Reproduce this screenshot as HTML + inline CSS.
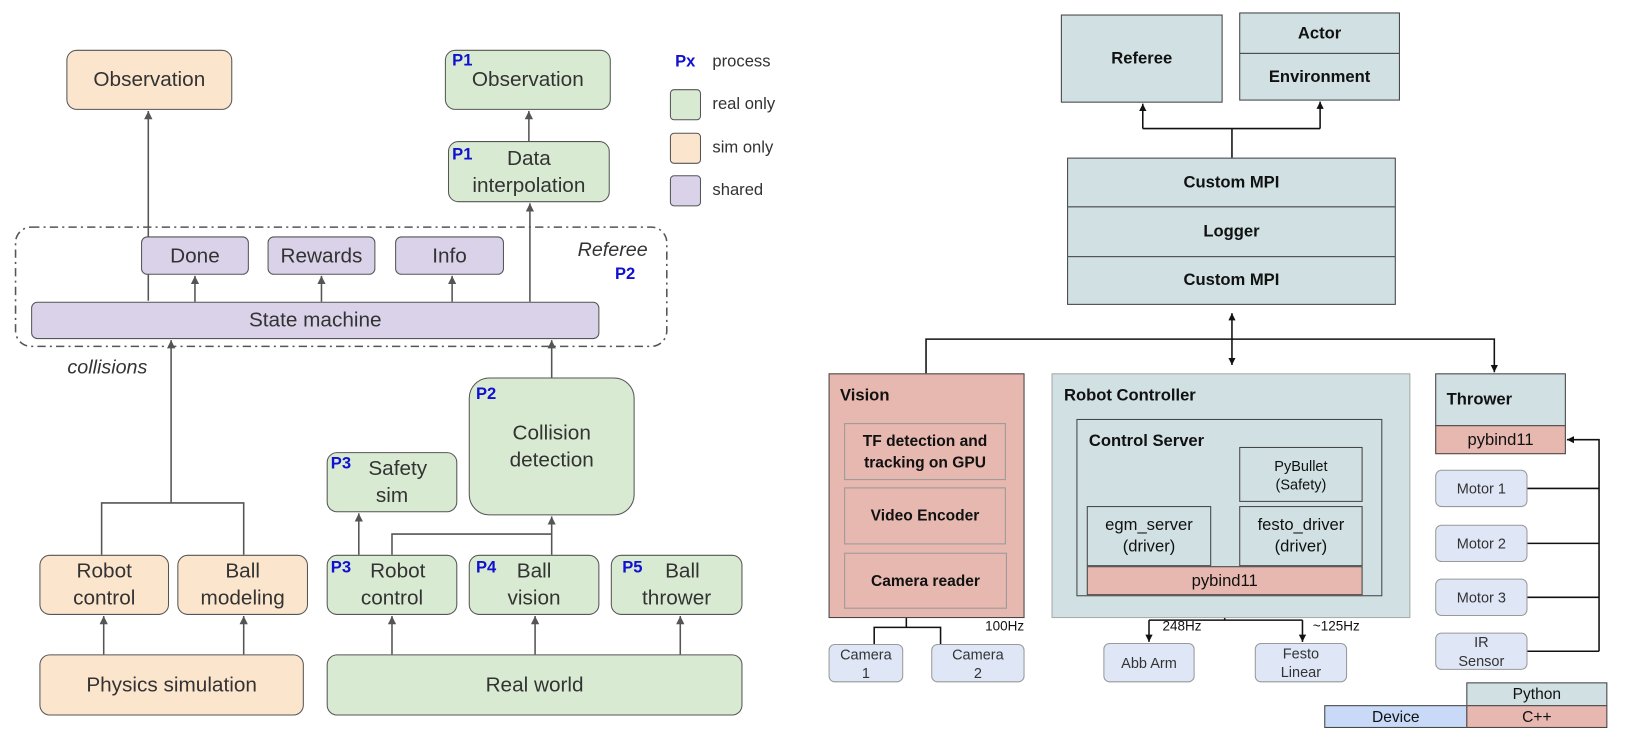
<!DOCTYPE html><html><head><style>
body{margin:0;width:1626px;height:738px;background:#fff;position:relative;overflow:hidden;font-family:"Liberation Sans",sans-serif}
#w{position:absolute;left:0;top:0;width:1568px;height:712px;transform:scale(1.037);transform-origin:0 0}
.b{position:absolute;box-sizing:border-box;border:1.5px solid #555;display:flex;align-items:center;justify-content:center;text-align:center;color:#333;font-size:20px;line-height:26px}
.g{background:#d9ead3;border-radius:10px}.o{background:#fce5cd;border-radius:10px}.p{background:#d9d2e9;border-radius:6px}
.t{position:absolute;color:#333}
.px{position:absolute;color:#1010d0;font-weight:bold;font-size:16px}
.r{position:absolute;box-sizing:border-box;border:1.5px solid #444;display:flex;align-items:center;justify-content:center;text-align:center;color:#111;font-size:16px;line-height:21px}
.tl{background:#d0e0e3}.rd{background:#e6b8af}.bl{background:#dfe7f7;border-color:#999;border-radius:6px;color:#333;font-size:14px;line-height:18px}
.bd{font-weight:bold}
</style></head><body><div id="w">
<svg width="1568" height="712" style="position:absolute;left:0;top:0">
<defs>
<marker id="k" viewBox="0 0 8 8" markerWidth="7" markerHeight="7" refX="8" refY="4" orient="auto-start-reverse" markerUnits="userSpaceOnUse"><path d="M0,0 L8,4 L0,8z" fill="#111"/></marker>
<marker id="m" viewBox="0 0 8 8" markerWidth="8" markerHeight="8" refX="8" refY="4" orient="auto-start-reverse" markerUnits="userSpaceOnUse"><path d="M0,0 L8,4 L0,8z" fill="#555"/></marker></defs>
<g stroke="#555" stroke-width="1.5" fill="none">
<rect x="15" y="219" width="628" height="115" rx="15" stroke-dasharray="8,4,2,4"/>
<path d="M143 290V107" marker-end="url(#m)"/>
<path d="M188 291V266" marker-end="url(#m)"/>
<path d="M310 291V266" marker-end="url(#m)"/>
<path d="M436 291V266" marker-end="url(#m)"/>
<path d="M511 291V196" marker-end="url(#m)"/>
<path d="M510 136V107" marker-end="url(#m)"/>
<path d="M165 485V328" marker-end="url(#m)"/>
<path d="M98 535V485H235V535"/>
<path d="M532 364V328" marker-end="url(#m)"/>
<path d="M532 535V498" marker-end="url(#m)"/>
<path d="M378 535V515H532"/>
<path d="M346 535V495" marker-end="url(#m)"/>
<path d="M100 631V594" marker-end="url(#m)"/><path d="M235 631V594" marker-end="url(#m)"/>
<path d="M378 631V594" marker-end="url(#m)"/><path d="M516 631V594" marker-end="url(#m)"/><path d="M656 631V594" marker-end="url(#m)"/>
</g>
<g stroke="#111" stroke-width="1.5" fill="none">
<path d="M1188 152V124"/><path d="M1102 124H1273"/>
<path d="M1102 124V100" marker-end="url(#k)"/><path d="M1273 124V98" marker-end="url(#k)"/>
<path d="M1188 302V352" marker-start="url(#k)" marker-end="url(#k)"/>
<path d="M893 360V327H1441V359" marker-end="url(#k)"/>
<path d="M843 621V605H907V621"/><path d="M874 605V588" marker-end="url(#k)"/>
<path d="M1181 598V575" marker-end="url(#k)"/>
<path d="M1108 598H1256"/><path d="M1108 598V619" marker-end="url(#k)"/><path d="M1256 598V619" marker-end="url(#k)"/>
<path d="M1473 471H1542M1473 524H1542M1473 576H1542M1473 628H1542M1542 628V424H1511" marker-end="url(#k)"/>
</g></svg>

<div class="b o" style="left:64px;top:48px;width:160px;height:58px">Observation</div>
<div class="b g" style="left:429px;top:48px;width:160px;height:58px">Observation</div><div class="px" style="left:436px;top:50px">P1</div>
<div class="b g" style="left:432px;top:136px;width:156px;height:59px">Data<br>interpolation</div><div class="px" style="left:436px;top:141px">P1</div>
<div class="px" style="left:651px;top:51px">Px</div><div class="t" style="left:687px;top:51px;font-size:16px">process</div>
<div class="b g" style="left:646px;top:86px;width:30px;height:30px;border-radius:4px"></div><div class="t" style="left:687px;top:92px;font-size:16px">real only</div>
<div class="b o" style="left:646px;top:128px;width:30px;height:30px;border-radius:4px"></div><div class="t" style="left:687px;top:134px;font-size:16px">sim only</div>
<div class="b p" style="left:646px;top:169px;width:30px;height:30px;border-radius:4px"></div><div class="t" style="left:687px;top:175px;font-size:16px">shared</div>
<div class="b p" style="left:136px;top:228px;width:104px;height:37px">Done</div>
<div class="b p" style="left:258px;top:228px;width:104px;height:37px">Rewards</div>
<div class="b p" style="left:381px;top:228px;width:105px;height:37px">Info</div>
<div class="b p" style="left:30px;top:291px;width:548px;height:36px">State machine</div>
<div class="t" style="left:557px;top:231px;font-size:19px;font-style:italic">Referee</div><div class="px" style="left:593px;top:256px">P2</div>
<div class="t" style="left:65px;top:344px;font-size:19px;font-style:italic">collisions</div>
<div class="b g" style="left:452px;top:364px;width:160px;height:133px;border-radius:20px">Collision<br>detection</div><div class="px" style="left:459px;top:372px">P2</div>
<div class="b g" style="left:315px;top:436px;width:126px;height:58px">&nbsp;&nbsp;Safety<br>sim</div><div class="px" style="left:319px;top:439px">P3</div>
<div class="b o" style="left:38px;top:535px;width:125px;height:58px">Robot<br>control</div>
<div class="b o" style="left:171px;top:535px;width:126px;height:58px">Ball<br>modeling</div>
<div class="b g" style="left:315px;top:535px;width:126px;height:58px">&nbsp;&nbsp;Robot<br>control</div><div class="px" style="left:319px;top:539px">P3</div>
<div class="b g" style="left:452px;top:535px;width:126px;height:58px">Ball<br>vision</div><div class="px" style="left:459px;top:539px">P4</div>
<div class="b g" style="left:589px;top:535px;width:127px;height:58px">&nbsp;&nbsp;Ball<br>thrower</div><div class="px" style="left:600px;top:539px">P5</div>
<div class="b o" style="left:38px;top:631px;width:255px;height:59px">Physics simulation</div>
<div class="b g" style="left:315px;top:631px;width:401px;height:59px">Real world</div>

<div class="r tl bd" style="left:1023px;top:14px;width:156px;height:85px">Referee</div>
<div class="r tl bd" style="left:1195px;top:12px;width:155px;height:40px">Actor</div>
<div class="r tl bd" style="left:1195px;top:51px;width:155px;height:46px">Environment</div>
<div class="r tl bd" style="left:1029px;top:152px;width:317px;height:48px">Custom MPI</div>
<div class="r tl bd" style="left:1029px;top:199px;width:317px;height:49px">Logger</div>
<div class="r tl bd" style="left:1029px;top:247px;width:317px;height:47px">Custom MPI</div>
<div class="r rd" style="left:799px;top:360px;width:189px;height:236px"></div>
<div class="t bd" style="left:810px;top:373px;font-size:16px;color:#111">Vision</div>
<div class="r rd bd" style="left:814px;top:408px;width:156px;height:55px;border-color:#999;font-size:15px">TF detection and<br>tracking on GPU</div>
<div class="r rd bd" style="left:814px;top:470px;width:156px;height:55px;border-color:#999;font-size:15px">Video Encoder</div>
<div class="r rd bd" style="left:814px;top:533px;width:157px;height:54px;border-color:#999;font-size:15px">Camera reader</div>
<div class="r tl" style="left:1014px;top:360px;width:346px;height:236px;border-color:#aaa"></div>
<div class="t bd" style="left:1026px;top:373px;font-size:16px;color:#111">Robot Controller</div>
<div class="r tl" style="left:1038px;top:404px;width:295px;height:171px"></div>
<div class="t bd" style="left:1050px;top:417px;font-size:16px;color:#111">Control Server</div>
<div class="r tl" style="left:1195px;top:431px;width:119px;height:53px;font-size:14px;line-height:18px">PyBullet<br>(Safety)</div>
<div class="r tl" style="left:1048px;top:488px;width:120px;height:58px">egm_server<br>(driver)</div>
<div class="r tl" style="left:1195px;top:488px;width:119px;height:58px">festo_driver<br>(driver)</div>
<div class="r rd" style="left:1048px;top:546px;width:266px;height:28px">pybind11</div>
<div class="r tl bd" style="left:1384px;top:360px;width:126px;height:51px;justify-content:flex-start;padding-left:10px">Thrower</div>
<div class="r rd" style="left:1384px;top:410px;width:126px;height:28px">pybind11</div>
<div class="r bl" style="left:1384px;top:453px;width:89px;height:36px">Motor 1</div>
<div class="r bl" style="left:1384px;top:506px;width:89px;height:36px">Motor 2</div>
<div class="r bl" style="left:1384px;top:558px;width:89px;height:36px">Motor 3</div>
<div class="r bl" style="left:1384px;top:610px;width:89px;height:36px">IR<br>Sensor</div>
<div class="r bl" style="left:799px;top:621px;width:72px;height:37px">Camera<br>1</div>
<div class="r bl" style="left:898px;top:621px;width:90px;height:37px">Camera<br>2</div>
<div class="t" style="left:950px;top:596px;font-size:13px;color:#111">100Hz</div>
<div class="r bl" style="left:1064px;top:620px;width:88px;height:38px">Abb Arm</div>
<div class="r bl" style="left:1210px;top:620px;width:89px;height:38px">Festo<br>Linear</div>
<div class="t" style="left:1121px;top:596px;font-size:13px;color:#111">248Hz</div>
<div class="t" style="left:1266px;top:596px;font-size:13px;color:#111">~125Hz</div>
<div class="r tl" style="left:1414px;top:658px;width:136px;height:23px;font-size:15px">Python</div>
<div class="r" style="left:1277px;top:680px;width:138px;height:22px;background:#c9daf8;font-size:15px">Device</div>
<div class="r rd" style="left:1414px;top:680px;width:136px;height:22px;font-size:15px">C++</div>
</div></body></html>
